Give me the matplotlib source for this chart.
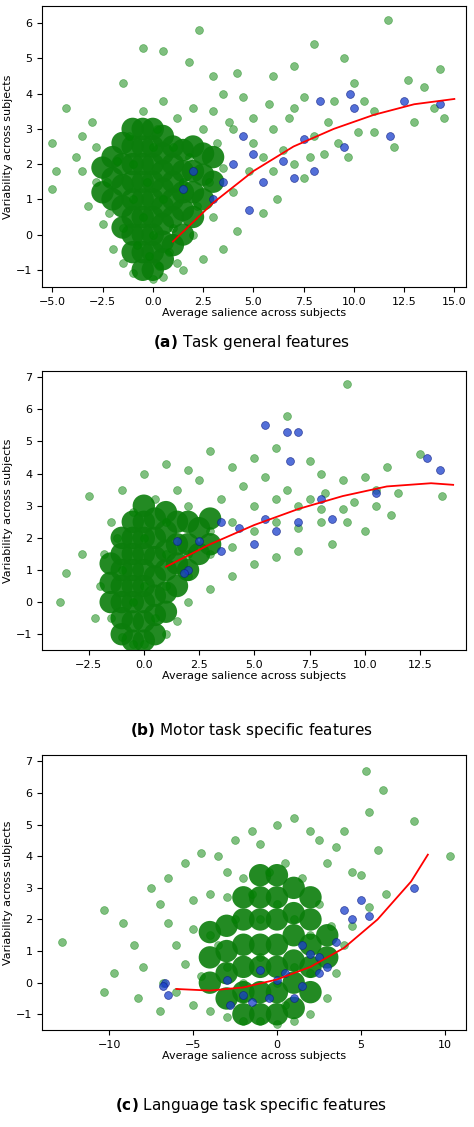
import matplotlib
matplotlib.use("Agg")
import matplotlib.pyplot as plt
import numpy as np

# Panel a
a_green = [(-5,2.6),(-5,1.3),(-4.8,1.8),(-4.3,3.6),(-3.8,2.2),(-3.5,2.8),(-3,3.2),(-2.8,1.5),(-3.2,0.8),(-2.5,0.3),(-1.5,4.3),(-0.5,5.3),(0.5,5.2),(2.3,5.8),(1.8,4.9),(3,4.5),(4.2,4.6),(6,4.5),(7,4.8),(8,5.4),(9.5,5),(10,4.3),(11.7,6.1),(12.7,4.4),(14.5,3.3),(14.3,4.7),(13.5,4.2),(11,3.5),(10.2,2.9),(9.2,2.6),(8.5,2.3),(7.5,1.6),(6.2,1.0),(5.5,0.6),(4.2,0.1),(3.5,-0.4),(2.5,-0.7),(1.5,-1.0),(-1.5,-0.8),(-2,-0.4),(-2.2,0.6),(-1,-1.1),(0,-1.25),(0.5,-1.2),(12,2.5),(11,2.9),(9,3.8),(8.7,3.2),(7.8,2.2),(6.8,3.3),(5.8,3.7),(5,2.6),(4.5,3.9),(3.8,3.2),(3.2,2.6),(2.8,1.5),(2.2,0.8),(1.8,2.2),(1.2,3.3),(0.5,3.8),(-0.5,3.5),(-1.2,2.8),(-1.8,2.1),(-2.3,1.5),(-1,1),(0,0),(0.5,1),(1,0.2),(-0.5,0.5),(-0.2,-0.6),(0.8,-0.5),(1.5,1.5),(2,0),(-1,2),(0,2.5),(1,2.5),(2.5,3),(3.5,1.9),(4,1.2),(4.8,1.8),(5.5,2.2),(6.5,2.4),(7,2),(8,2.8),(6,3),(5,3.3),(3,0.5),(-1.5,0.2),(-0.8,-0.3),(0.3,-0.9),(1.2,-0.8),(-0.3,1.5),(0.2,3),(2,3.6),(3.5,4),(7.5,3.9),(10.5,3.8),(9.7,2.2),(13,3.2),(14,3.6),(4,3),(3,3.5),(6,1.8),(7,3.6),(-2.8,2.5),(-3.5,1.8)]
a_core = [(-2,1),(-2,1.6),(-2,2.2),(-1.5,0.2),(-1.5,0.8),(-1.5,1.4),(-1.5,2),(-1.5,2.6),(-1,-0.5),(-1,0),(-1,0.5),(-1,1),(-1,1.5),(-1,2),(-1,2.5),(-1,3),(-0.5,-1),(-0.5,-0.5),(-0.5,0),(-0.5,0.5),(-0.5,1),(-0.5,1.5),(-0.5,2),(-0.5,2.5),(-0.5,3),(0,-1),(0,-0.5),(0,0),(0,0.5),(0,1),(0,1.5),(0,2),(0,2.5),(0,3),(0.5,-0.7),(0.5,-0.2),(0.5,0.3),(0.5,0.8),(0.5,1.3),(0.5,1.8),(0.5,2.3),(0.5,2.8),(1,-0.3),(1,0.5),(1,1),(1,1.5),(1,2),(1,2.5),(1.5,0),(1.5,0.7),(1.5,1.2),(1.5,1.8),(1.5,2.4),(2,0.5),(2,1.2),(2,1.8),(2,2.5),(2.5,1),(2.5,1.7),(2.5,2.3),(3,1.5),(3,2.2),(-2.5,1.2),(-2.5,1.9)]
a_blue = [(8.3,3.8),(9.8,4),(10,3.6),(12.5,3.8),(14.3,3.7),(11.8,2.8),(9.5,2.5),(8,1.8),(7,1.6),(6.5,2.1),(5.5,1.5),(4.5,2.8),(4,2),(3.5,1.5),(1.5,1.3),(2,1.8),(4.8,0.7),(7.5,2.7),(5,2.3),(3,1)]
a_fit_x = [1,3,5,7,9,11,13,15]
a_fit_y = [-0.2,0.9,1.8,2.5,3.0,3.4,3.7,3.85]

# Panel b
b_green = [(-3.8,0),(-3.5,0.9),(-2.5,3.3),(-2.8,1.5),(-2.2,-0.5),(-1.5,2.5),(-1,3.5),(0,4),(1,4.3),(2,4.1),(3,4.7),(4,4.2),(5,4.5),(6,4.8),(6.5,5.8),(7.5,4.4),(9.2,6.8),(8,4),(9,3.8),(10,3.9),(10.5,3.5),(11,4.2),(11.5,3.4),(12.5,4.6),(13.5,3.3),(10,2.2),(9.2,2.5),(8.5,1.8),(8,2.9),(7,1.6),(6,1.4),(5,1.2),(4,0.8),(3,0.4),(2,0),(1.5,-0.6),(1,-1),(0,-1.3),(-0.5,-1.3),(-1,-1.1),(-1.5,-0.5),(-2,0.5),(-1.8,1.5),(-1.2,2),(-0.5,2.8),(0.5,3.2),(1.5,3.5),(2.5,3.8),(3.5,3.2),(4.5,3.6),(5.5,3.9),(6.5,3.5),(7,3),(7.5,3.2),(8.2,3.4),(9.5,3.1),(10.5,3),(11.2,2.7),(6,2.5),(5,2.2),(4,2.5),(3,2.2),(2,1.5),(1,1.5),(0,0.5),(0.5,-0.5),(-0.5,0),(-1,1),(0,2),(1,2.5),(2,3),(3,1.5),(4,1.7),(5,3),(6,3.2),(7,2.3),(8,2.5),(9,2.9),(1,0.5),(2,0.8)]
b_core = [(-1.5,0),(-1.5,0.6),(-1.5,1.2),(-1,-1),(-1,-0.5),(-1,0),(-1,0.5),(-1,1),(-1,1.5),(-1,2),(-0.5,-1.2),(-0.5,-0.6),(-0.5,0),(-0.5,0.5),(-0.5,1),(-0.5,1.5),(-0.5,2),(-0.5,2.5),(0,-1.2),(0,-0.6),(0,0),(0,0.5),(0,1),(0,1.5),(0,2),(0,2.5),(0,3),(0.5,-1),(0.5,-0.4),(0.5,0.2),(0.5,0.8),(0.5,1.4),(0.5,2),(0.5,2.6),(1,-0.3),(1,0.3),(1,1),(1,1.6),(1,2.2),(1,2.8),(1.5,0.5),(1.5,1.2),(1.5,1.8),(1.5,2.5),(2,1),(2,1.8),(2,2.5),(2.5,1.5),(2.5,2.3),(3,1.8),(3,2.6)]
b_blue = [(5.5,5.5),(6.5,5.3),(7,5.3),(6.6,4.4),(12.8,4.5),(13.4,4.1),(10.5,3.4),(8,3.2),(8.5,2.6),(7,2.5),(6,2.2),(5.5,2.6),(5,1.8),(4.3,2.3),(3.5,2.5),(2.5,1.9),(2,1.0),(1.8,0.9),(1.5,1.9),(3.5,1.6)]
b_fit_x = [1,3,5,7,9,11,13,14]
b_fit_y = [1.1,1.8,2.4,2.9,3.3,3.6,3.7,3.65]

# Panel c
c_green = [(-12.8,1.3),(-10.3,2.3),(-10.3,-0.3),(-9.2,1.9),(-9.7,0.3),(-8.3,-0.5),(-7.5,3),(-7,2.5),(-6.5,3.3),(-6.8,0),(-6,1.2),(-5.5,3.8),(-5,2.6),(-4.5,4.1),(-4,1.5),(-3.5,4),(-3,2.7),(-2.5,4.5),(-2,3.3),(-1.5,4.8),(-1,4.4),(0,5),(1,5.2),(2,4.8),(2.5,4.5),(3,3.8),(3.5,4.3),(4,4.8),(5.3,6.7),(5.5,5.4),(6.3,6.1),(6,4.2),(8.2,5.1),(10.3,4),(6.5,2.8),(5.5,2.4),(5,3.4),(4.5,1.8),(4,1.2),(3.5,0.3),(3,-0.5),(2,-1),(1,-1.2),(0,-1.3),(-1,-1.2),(-2,-1.2),(-3,-1.1),(-4,-0.9),(-5,-0.7),(-6,-0.3),(-7,-0.9),(-8,0.5),(-5.5,0.6),(-4.5,0.2),(-3.5,1.2),(-2.5,2),(-1.5,2.8),(-0.5,3.5),(0.5,3.8),(1.5,3.3),(2.5,2.5),(3.2,1.8),(-4,2.8),(-3,3.5),(-5,1.7),(-6.5,1.9),(-8.5,1.2),(4.5,3.5),(2,1.5),(1,0.5),(0,0),(-1,0.8),(-2,0),(-3,0.5),(-1,2),(0,2.5),(1,2),(2,0.3),(-2,-0.5),(0.5,-0.7)]
c_core = [(-3,-0.5),(-3,0.3),(-3,1),(-3,1.8),(-2,-1),(-2,-0.3),(-2,0.5),(-2,1.2),(-2,2),(-2,2.7),(-1,-1),(-1,-0.3),(-1,0.5),(-1,1.2),(-1,2),(-1,2.7),(-1,3.4),(0,-1),(0,-0.3),(0,0.5),(0,1.2),(0,2),(0,2.7),(0,3.4),(1,-0.8),(1,0),(1,0.7),(1,1.5),(1,2.2),(1,3),(2,-0.3),(2,0.5),(2,1.2),(2,2),(2,2.7),(-4,0),(-4,0.8),(-4,1.6),(3,0.8),(3,1.5)]
c_blue = [(-6.7,0),(-6.5,-0.4),(-6.8,-0.1),(-3,0.1),(-2.8,-0.7),(-2,-0.4),(-1,0.4),(-0.5,-0.5),(0,0.1),(0.5,0.3),(1,-0.5),(1.5,1.2),(2,0.9),(2.5,0.3),(2.5,0.8),(3,0.5),(3.5,1.3),(4,2.3),(4.5,2),(5,2.6),(5.5,2.1),(8.2,3),(-1.5,-0.6),(1.5,-0.1)]
c_fit_x = [-6,-4,-2,0,2,4,6,8,9]
c_fit_y = [-0.2,-0.25,-0.15,0.1,0.5,1.1,2.0,3.2,4.05]

captions = ["Task general features", "Motor task specific features", "Language task specific features"]
labels = ["(a)", "(b)", "(c)"]

fig = plt.figure(figsize=(4.74, 11.27), dpi=100)
rects = [[0.089, 0.745, 0.895, 0.25], [0.089, 0.423, 0.895, 0.248], [0.089, 0.086, 0.895, 0.244]]
cap_y = [0.696, 0.352, 0.0195]
panels = [(a_green, a_core, a_blue, a_fit_x, a_fit_y, (-5.5, 15.6), [-5, -2.5, 0, 2.5, 5, 7.5, 10, 12.5, 15], (-1.5, 6.5), range(-1, 7)),
          (b_green, b_core, b_blue, b_fit_x, b_fit_y, (-4.6, 14.6), [-2.5, 0, 2.5, 5, 7.5, 10, 12.5], (-1.5, 7.2), range(-1, 8)),
          (c_green, c_core, c_blue, c_fit_x, c_fit_y, (-14, 11.3), [-10, -5, 0, 5, 10], (-1.5, 7.2), range(-1, 8))]
for i, (g, core, b, fx, fy, xl, xt, yl, yt) in enumerate(panels):
    ax = fig.add_axes(rects[i])
    g = np.array(g); core = np.array(core); b = np.array(b)
    ax.scatter(core[:, 0], core[:, 1], s=260, color="#0b7d0b", alpha=0.9, edgecolors="none")
    ax.scatter(g[:, 0], g[:, 1], s=32, color="green", alpha=0.5, edgecolors="green", linewidths=0.5)
    ax.scatter(b[:, 0], b[:, 1], s=32, color="#1a3fcc", alpha=0.75, edgecolors="#0a1a80", linewidths=0.5)
    ax.plot(fx, fy, color="red", lw=1.3)
    ax.set_xlim(*xl); ax.set_ylim(*yl)
    ax.set_xticks(xt); ax.set_yticks(list(yt))
    ax.tick_params(labelsize=8)
    ax.set_xlabel("Average salience across subjects", fontsize=8, labelpad=1)
    ax.set_ylabel("Variability across subjects", fontsize=8, labelpad=2)
    fig.text(0.53, cap_y[i], r"$\bf{" + labels[i] + r"}$ " + captions[i], ha="center", va="center", fontsize=11)

fig.savefig("out.png", dpi=100)
